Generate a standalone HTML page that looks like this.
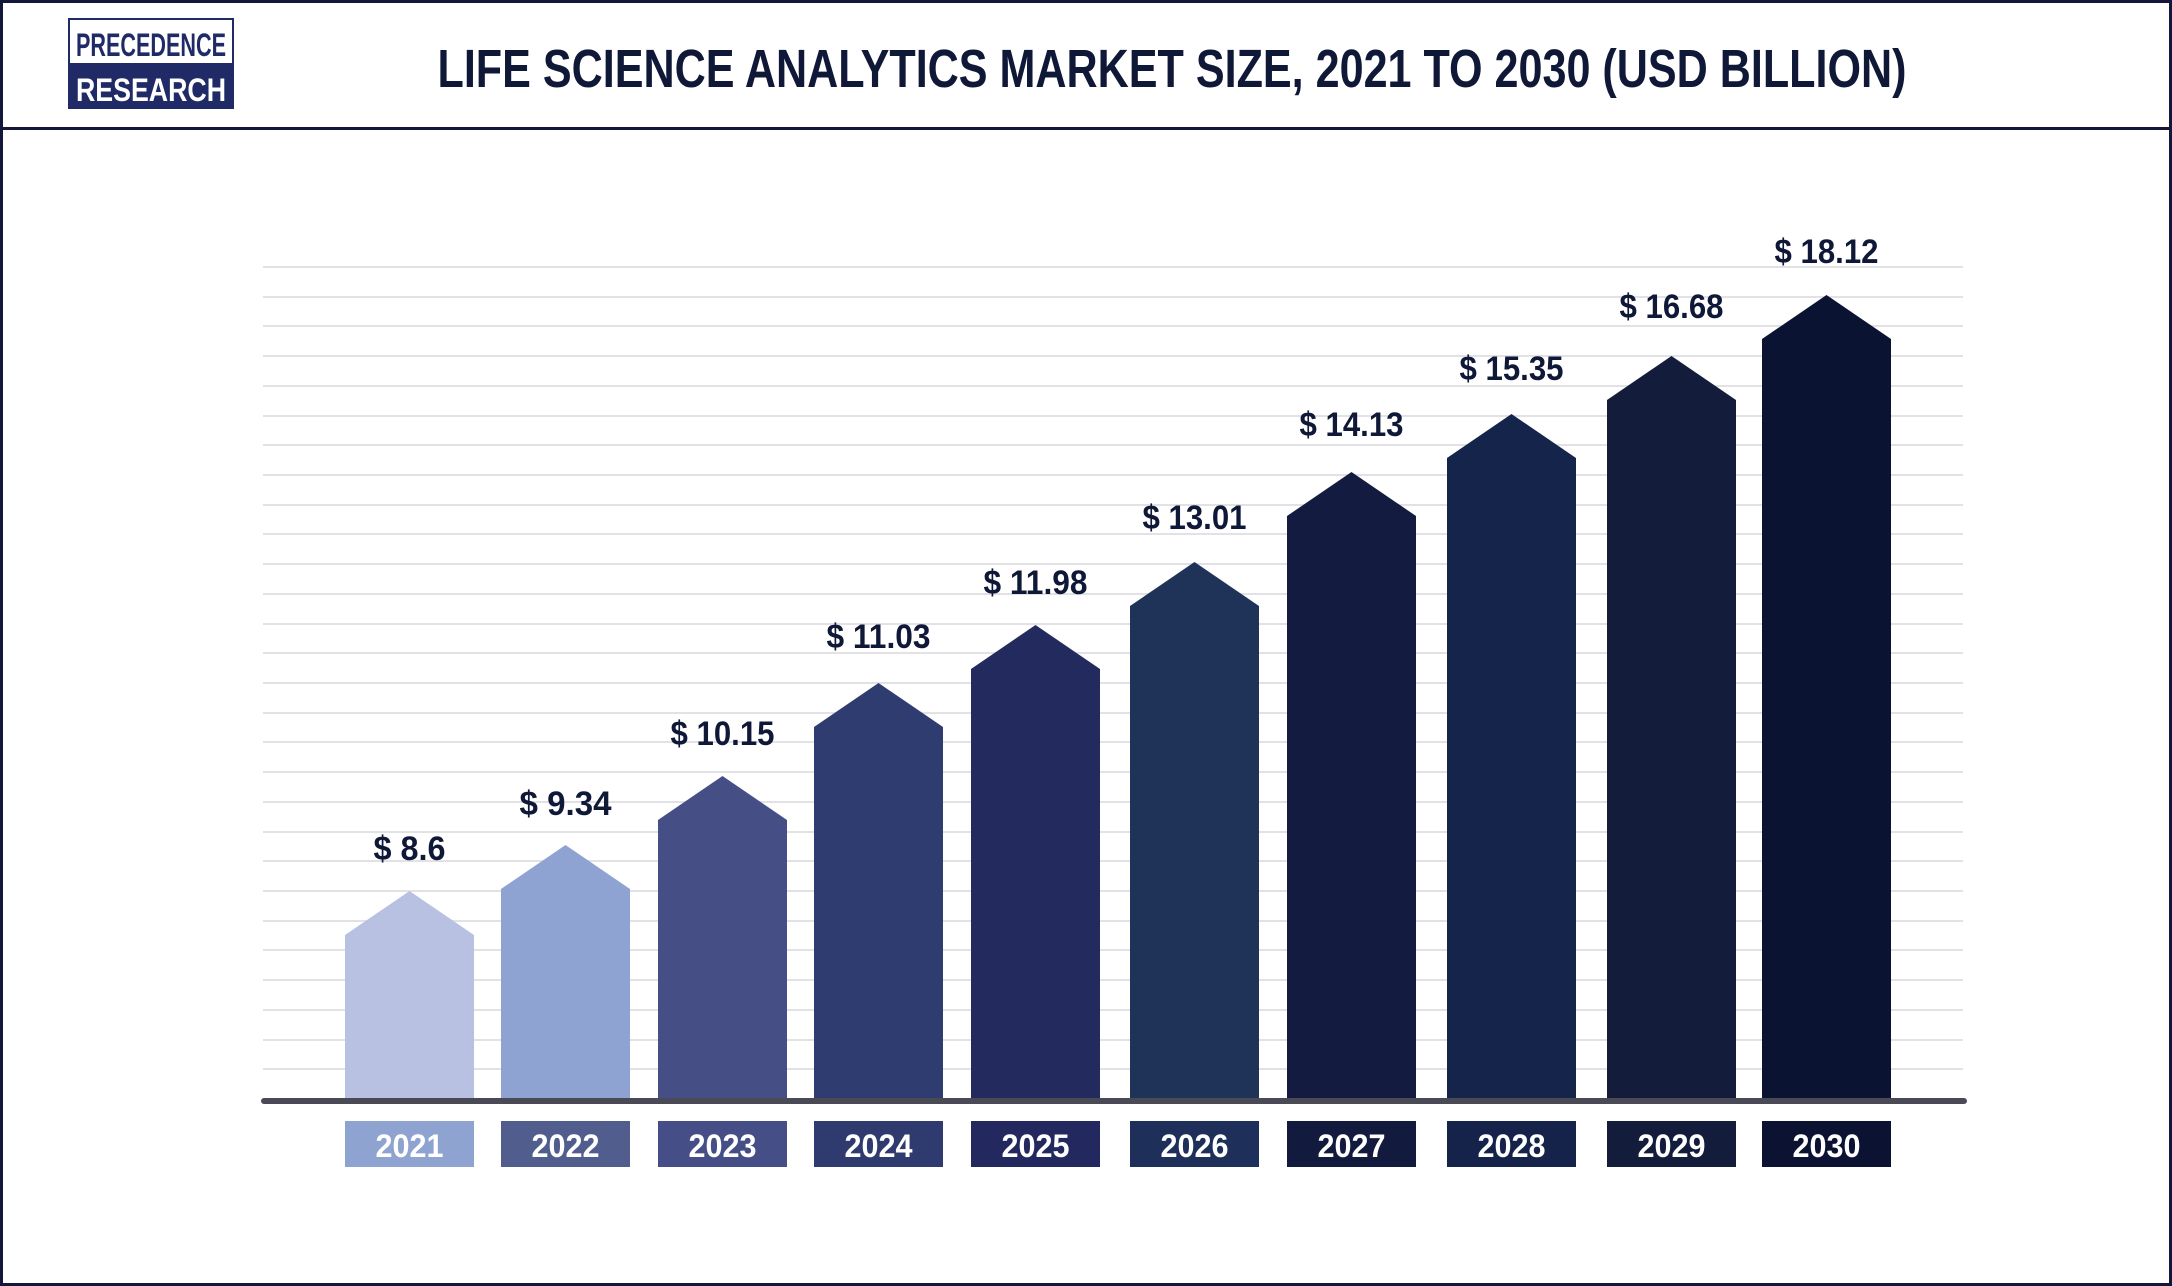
<!DOCTYPE html>
<html><head><meta charset="utf-8"><style>
html,body{margin:0;padding:0;background:#fff}
svg{display:block}
text{font-family:"Liberation Sans",sans-serif;font-weight:bold}
</style></head><body>
<svg width="2172" height="1286" viewBox="0 0 2172 1286" xmlns="http://www.w3.org/2000/svg">
<rect x="1.5" y="1.5" width="2169" height="1283" fill="#fff" stroke="#14163a" stroke-width="3"/>
<rect x="0" y="127" width="2172" height="3" fill="#14163a"/>
<rect x="69" y="19" width="164" height="89" fill="#fff" stroke="#1f2a66" stroke-width="2"/>
<rect x="69" y="63" width="164" height="45" fill="#1f2a66"/>
<text x="151" y="56" text-anchor="middle" font-size="32" fill="#1f2a66" textLength="150" lengthAdjust="spacingAndGlyphs">PRECEDENCE</text>
<text x="151" y="101" text-anchor="middle" font-size="32" fill="#fff" textLength="150" lengthAdjust="spacingAndGlyphs">RESEARCH</text>
<text x="1172" y="87" text-anchor="middle" font-size="54" fill="#101838" textLength="1469" lengthAdjust="spacingAndGlyphs">LIFE SCIENCE ANALYTICS MARKET SIZE, 2021 TO 2030 (USD BILLION)</text>
<g stroke="#e2e2e6" stroke-width="2">
<line x1="263" x2="1963" y1="267" y2="267"/><line x1="263" x2="1963" y1="297" y2="297"/><line x1="263" x2="1963" y1="326" y2="326"/><line x1="263" x2="1963" y1="356" y2="356"/><line x1="263" x2="1963" y1="386" y2="386"/><line x1="263" x2="1963" y1="416" y2="416"/><line x1="263" x2="1963" y1="445" y2="445"/><line x1="263" x2="1963" y1="475" y2="475"/><line x1="263" x2="1963" y1="505" y2="505"/><line x1="263" x2="1963" y1="534" y2="534"/><line x1="263" x2="1963" y1="564" y2="564"/><line x1="263" x2="1963" y1="594" y2="594"/><line x1="263" x2="1963" y1="624" y2="624"/><line x1="263" x2="1963" y1="653" y2="653"/><line x1="263" x2="1963" y1="683" y2="683"/><line x1="263" x2="1963" y1="713" y2="713"/><line x1="263" x2="1963" y1="742" y2="742"/><line x1="263" x2="1963" y1="772" y2="772"/><line x1="263" x2="1963" y1="802" y2="802"/><line x1="263" x2="1963" y1="832" y2="832"/><line x1="263" x2="1963" y1="861" y2="861"/><line x1="263" x2="1963" y1="891" y2="891"/><line x1="263" x2="1963" y1="921" y2="921"/><line x1="263" x2="1963" y1="950" y2="950"/><line x1="263" x2="1963" y1="980" y2="980"/><line x1="263" x2="1963" y1="1010" y2="1010"/><line x1="263" x2="1963" y1="1040" y2="1040"/><line x1="263" x2="1963" y1="1069" y2="1069"/>
</g>
<polygon fill="#b8c1e1" points="345,935 409.5,891 474,935 474,1100 345,1100"/>
<polygon fill="#8ea3d1" points="501,889 565.5,845 630,889 630,1100 501,1100"/>
<polygon fill="#454f86" points="658,820 722.5,776 787,820 787,1100 658,1100"/>
<polygon fill="#2f3c70" points="814,727 878.5,683 943,727 943,1100 814,1100"/>
<polygon fill="#232a5e" points="971,669 1035.5,625 1100,669 1100,1100 971,1100"/>
<polygon fill="#1f3359" points="1130,606 1194.5,562 1259,606 1259,1100 1130,1100"/>
<polygon fill="#131c40" points="1287,516 1351.5,472 1416,516 1416,1100 1287,1100"/>
<polygon fill="#15244a" points="1447,458 1511.5,414 1576,458 1576,1100 1447,1100"/>
<polygon fill="#141c3c" points="1607,400 1671.5,356 1736,400 1736,1100 1607,1100"/>
<polygon fill="#0b1333" points="1762,339 1826.5,295 1891,339 1891,1100 1762,1100"/>
<line x1="264" x2="1964" y1="1101" y2="1101" stroke="#4a4a56" stroke-width="6" stroke-linecap="round"/>
<g font-size="34" fill="#101838" text-anchor="middle">
<text x="409.5" y="860" textLength="72" lengthAdjust="spacingAndGlyphs">$ 8.6</text>
<text x="565.5" y="815" textLength="92" lengthAdjust="spacingAndGlyphs">$ 9.34</text>
<text x="722.5" y="745" textLength="104" lengthAdjust="spacingAndGlyphs">$ 10.15</text>
<text x="878.5" y="648" textLength="104" lengthAdjust="spacingAndGlyphs">$ 11.03</text>
<text x="1035.5" y="594" textLength="104" lengthAdjust="spacingAndGlyphs">$ 11.98</text>
<text x="1194.5" y="529" textLength="104" lengthAdjust="spacingAndGlyphs">$ 13.01</text>
<text x="1351.5" y="436" textLength="104" lengthAdjust="spacingAndGlyphs">$ 14.13</text>
<text x="1511.5" y="380" textLength="104" lengthAdjust="spacingAndGlyphs">$ 15.35</text>
<text x="1671.5" y="318" textLength="104" lengthAdjust="spacingAndGlyphs">$ 16.68</text>
<text x="1826.5" y="263" textLength="104" lengthAdjust="spacingAndGlyphs">$ 18.12</text>
</g>
<rect x="345" y="1121" width="129" height="46" fill="#8fa3d0"/>
<rect x="501" y="1121" width="129" height="46" fill="#515d8c"/>
<rect x="658" y="1121" width="129" height="46" fill="#454e86"/>
<rect x="814" y="1121" width="129" height="46" fill="#2f3b6f"/>
<rect x="971" y="1121" width="129" height="46" fill="#23295e"/>
<rect x="1130" y="1121" width="129" height="46" fill="#1e3059"/>
<rect x="1287" y="1121" width="129" height="46" fill="#121b3d"/>
<rect x="1447" y="1121" width="129" height="46" fill="#15234a"/>
<rect x="1607" y="1121" width="129" height="46" fill="#131c3b"/>
<rect x="1762" y="1121" width="129" height="46" fill="#0b1232"/>
<g font-size="32" fill="#fff" text-anchor="middle">
<text x="409.5" y="1157" textLength="68" lengthAdjust="spacingAndGlyphs">2021</text>
<text x="565.5" y="1157" textLength="68" lengthAdjust="spacingAndGlyphs">2022</text>
<text x="722.5" y="1157" textLength="68" lengthAdjust="spacingAndGlyphs">2023</text>
<text x="878.5" y="1157" textLength="68" lengthAdjust="spacingAndGlyphs">2024</text>
<text x="1035.5" y="1157" textLength="68" lengthAdjust="spacingAndGlyphs">2025</text>
<text x="1194.5" y="1157" textLength="68" lengthAdjust="spacingAndGlyphs">2026</text>
<text x="1351.5" y="1157" textLength="68" lengthAdjust="spacingAndGlyphs">2027</text>
<text x="1511.5" y="1157" textLength="68" lengthAdjust="spacingAndGlyphs">2028</text>
<text x="1671.5" y="1157" textLength="68" lengthAdjust="spacingAndGlyphs">2029</text>
<text x="1826.5" y="1157" textLength="68" lengthAdjust="spacingAndGlyphs">2030</text>
</g>
</svg>
</body></html>
